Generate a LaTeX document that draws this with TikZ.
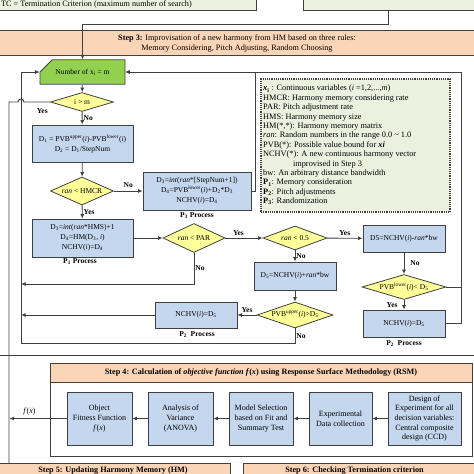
\documentclass[tikz,border=0pt]{standalone}
\usepackage{fontspec}
\setmainfont{Liberation Serif}
\usetikzlibrary{shapes.geometric,shapes.misc,arrows.meta}
\definecolor{notegreen}{RGB}{235,241,222}
\definecolor{numgreen}{RGB}{146,208,80}
\definecolor{condyellow}{RGB}{255,255,153}
\definecolor{procblue}{RGB}{197,215,238}
\definecolor{steppeach}{RGB}{251,213,183}
\definecolor{linegray}{RGB}{64,64,64}
\begin{document}
\begin{tikzpicture}[x=1pt,y=-1pt]
    \tikzset{
        line/.style={draw=linegray,line width=0.9pt},
        arr/.style={line,-{Latex[length=4.5pt,width=4pt]}},
        procbox/.style={draw=linegray,line width=0.8pt,fill=procblue,align=center,inner sep=1pt,font=\fontsize{7.5}{10}\selectfont},
        rsmbox/.style={procbox,minimum height=53,font=\fontsize{8}{9.6}\selectfont},
        decision/.style={diamond,draw=linegray,line width=0.8pt,fill=condyellow,inner sep=0pt,font=\fontsize{7.5}{9}\selectfont},
        numbox/.style={chamfered rectangle,chamfered rectangle corners=north west,chamfered rectangle xsep=9pt,chamfered rectangle ysep=8pt,draw=linegray,line width=0.8pt,fill=numgreen,inner sep=1pt,font=\fontsize{7.5}{9}\selectfont},
        stepbar/.style={draw=linegray,line width=1pt,fill=steppeach,align=center,font=\fontsize{8.2}{10}\selectfont},
        notebox/.style={draw=linegray,line width=0.8pt,fill=notegreen},
        lbl/.style={font=\bfseries\fontsize{7.5}{9}\selectfont,inner sep=1pt},
    }
    \useasboundingbox (0,0) rectangle (474,474);

    % notes from step 1 and 2 (cut off)
    \draw[notebox] (-5,-20) rectangle (256,10);
    \node[anchor=west,inner sep=0pt,font=\fontsize{8.2}{10}\selectfont] (tc) at (1,4) {TC = Termination Criterion (maximum number of search)};
    \draw[notebox] (303,-20) rectangle (480,10);
    \coordinate (hmout) at (388,10);

    % step 3
    \node[stepbar,minimum width=486,minimum height=22] (step3) at (237,43) {\textbf{Step 3:} Improvisation of a new harmony from HM based on three rules:\\Memory Considering, Pitch Adjusting, Random Choosing};
    \node[numbox,minimum width=85,minimum height=20] (num) at (82.5,72) {Number of x\textsubscript{i} = m};
    \node[decision,aspect=3.3,minimum width=63,minimum height=19] (im) at (82,102) {i > m};
    \node[procbox,minimum width=101,minimum height=37] (dbox) at (82.5,143.5) {D\textsubscript{1} = PVB\textsuperscript{upper}(\textit{i})-PVB\textsuperscript{lower}(\textit{i})\\D\textsubscript{2} = D\textsubscript{1}/StepNum};
    \node[decision,aspect=2.25,minimum width=63,minimum height=28] (hmcr) at (82,191) {\textit{ran} < HMCR};
    \node[procbox,minimum width=108,minimum height=38] (pthree) at (197,191) {D\textsubscript{3}=\textit{int}(\textit{ran}*[StepNum+1])\\D\textsubscript{4}=PVB\textsuperscript{lower}(\textit{i})+D\textsubscript{2}*D\textsubscript{3}\\NCHV(\textit{i})=D\textsubscript{4}};
    \node[lbl] (pthreelbl) at (197,216) {P\textsubscript{3} Process};
    \node[procbox,minimum width=101,minimum height=38] (pone) at (82.5,238) {D\textsubscript{3}=\textit{int}(\textit{ran}*HMS)+1\\D\textsubscript{4}=HM(D\textsubscript{3}, \textit{i})\\NCHV(\textit{i})=D\textsubscript{4}};
    \node[lbl] (ponelbl) at (80,262) {P\textsubscript{1} Process};
    \node[decision,aspect=2.14,minimum width=62,minimum height=29] (par) at (194,238) {\textit{ran} < PAR};
    \node[decision,aspect=2.67,minimum width=64,minimum height=24] (half) at (295,238) {\textit{ran} < 0.5};
    \node[procbox,minimum width=82,minimum height=27] (minus) at (404,238.5) {D5=NCHV(\textit{i})-\textit{ran}*bw};
    \node[procbox,minimum width=82,minimum height=28] (plus) at (295,276) {D\textsubscript{5}=NCHV(\textit{i})+\textit{ran}*bw};
    \node[decision,aspect=2.9,minimum width=76,minimum height=26] (upper) at (295,315) {PVB\textsuperscript{upper}(\textit{i})>D\textsubscript{5}};
    \node[procbox,minimum width=82,minimum height=26] (nchvl) at (196,315) {NCHV(\textit{i})=D\textsubscript{5}};
    \node[lbl] (ptwolbl) at (197,335) {P\textsubscript{2}~ Process};
    \node[decision,aspect=3.36,minimum width=84,minimum height=25] (lower) at (404,287) {PVB\textsuperscript{lower}(\textit{i})< D\textsubscript{5}};
    \node[procbox,minimum width=82,minimum height=27] (nchvr) at (404,323.5) {NCHV(\textit{i})=D\textsubscript{5}};
    \node[lbl] (ptwolbr) at (404,344) {P\textsubscript{2}~ Process};

    % legend
    \node[draw=linegray,densely dotted,line width=1.2pt,fill=notegreen,minimum width=189,minimum height=133] (legend) at (355.5,145.5) {};
    \node[anchor=north west,align=left,inner sep=0pt,font=\fontsize{8.3}{9.4}\selectfont] (legendtxt) at (263,85) {%
        \textbf{\textit{x}\textsubscript{i}} : Continuous variables (\textit{i} =1,2,...,\textit{m})\\
        HMCR: Harmony memory considering rate\\
        PAR: Pitch adjustment rate\\
        HMS: Harmony memory size\\
        HM(*,*): Harmony memory matrix\\
        \textit{ran}: Random numbers in the range 0.0 \textasciitilde{} 1.0\\
        PVB(*): Possible value bound for \textbf{\textit{xi}}\\
        NCHV(*): A new continuous harmony vector\\
        \hspace*{3.6em}improvised in Step 3\\
        bw: An arbitrary distance bandwidth\\
        \textbf{P\textsubscript{1}}: Memory consideration\\
        \textbf{P\textsubscript{2}}: Pitch adjustments\\
        \textbf{P\textsubscript{3}}: Randomization};

    % connectors of step 3
    \draw[arr] (hmout) -- ++(0,14) -| (num.north);
    \draw[arr] (num) -- (im);
    \draw[arr] (im) -- node[lbl,right] (imno) {No} (dbox);
    \draw[line] (im.west) -- node[lbl,below=5pt,pos=0.3] (imyes) {Yes} (24,102) arc[start angle=0,end angle=-180,radius=3] -- (9,102) -- (9,463);
    \draw[arr] (dbox) -- (hmcr);
    \draw[arr] (hmcr) -- node[lbl,above=2pt] (hmcrno) {No} (pthree);
    \draw[arr] (hmcr) -- node[lbl,right] (hmcryes) {Yes} (pone);
    \draw[arr] (pthree.east) -- ++(4,0) |- (num.east);
    \draw[arr] (pone) -- (par);
    \draw[arr] (par) -- node[lbl,above=1pt,pos=0.35] (paryes) {Yes} (half);
    \draw[arr] (par.south) -- node[lbl,right] (parno) {No} (194,284) -- (21,284);
    \draw[arr] (half) -- node[lbl,above=1pt] (halfyes) {Yes} (minus);
    \draw[arr] (half) -- node[lbl,right] (halfno) {No} (plus);
    \draw[arr] (plus) -- (upper);
    \draw[arr] (upper) -- node[lbl,above=1pt] (upperyes) {Yes} (nchvl);
    \draw[arr] (nchvl.west) -- (21,315);
    \draw[arr] (upper.south) -- node[lbl,right] (upperno) {No} (295,343) -- (21,343) -- (21,72) -- (num.west);
    \draw[arr] (minus) -- node[lbl,right=5pt] (minusno) {No} (lower);
    \draw[arr] (lower) -- node[lbl,left=5pt] (loweryes) {Yes} (nchvr);
    \draw[line] (lower.east) -- (461,287);
    \draw[arr] (nchvr.east) -- (461,323.5) |- (num.east);
    \draw[line,line width=1pt] (-5,355) -- (480,355);

    % step 4
    \draw[draw=linegray,line width=1pt] (50,363) rectangle (472,456);
    \node[stepbar,minimum width=422,minimum height=19] (step4) at (261,372.5) {\textbf{Step 4: Calculation of \textit{objective function f}(\textit{x}) using Response Surface Methodology (RSM)}};
    \node[rsmbox,minimum width=65] (fit) at (99.5,418.5) {Object\\Fitness Function\\\textit{f}(\textit{x})};
    \node[rsmbox,minimum width=65] (anova) at (180.5,418.5) {Analysis of\\Variance\\(ANOVA)};
    \node[rsmbox,minimum width=64] (model) at (261,418.5) {Model Selection\\based on Fit and\\Summary Test};
    \node[rsmbox,minimum width=63] (expdata) at (340.5,418.5) {Experimental\\Data collection};
    \node[rsmbox,minimum width=73] (doe) at (424.5,418.5) {Design of\\Experiment for all\\decision variables:\\Central composite\\design (CCD)};
    \draw[arr] (doe) -- (expdata);
    \draw[arr] (expdata) -- (model);
    \draw[arr] (model) -- (anova);
    \draw[arr] (anova) -- (fit);
    \draw[arr] (fit.west) -- node[above,pos=0.65,font=\fontsize{8}{9}\selectfont] (fxlbl) {\textit{f}(\textit{x})} (9.5,418.5);

    % step 5 and 6 (cut off)
    \node[stepbar,minimum width=235,minimum height=14,anchor=north west] (step5) at (-5,463) {\textbf{Step 5: Updating Harmony Memory (HM)}};
    \node[stepbar,minimum width=240,minimum height=14,anchor=north west] (step6) at (243,463) {\textbf{Step 6: Checking Termination criterion}\hspace*{18pt}};
\end{tikzpicture}
\end{document}
